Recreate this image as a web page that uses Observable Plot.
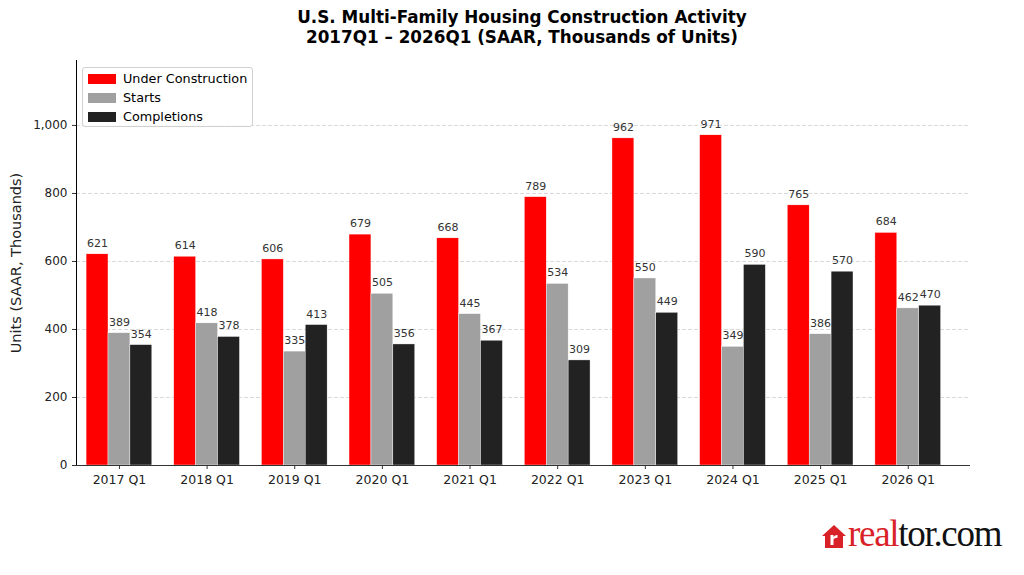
<!DOCTYPE html>
<html>
<head>
<meta charset="utf-8">
<script src="https://cdn.jsdelivr.net/npm/d3@7"></script>
<script src="https://cdn.jsdelivr.net/npm/@observablehq/plot@0.6"></script>
<style>
  html, body { margin: 0; padding: 0; background: #fff; }
  #page { position: relative; width: 1024px; height: 575px; overflow: hidden; font-family: "DejaVu Sans", sans-serif; }
  #title { position: absolute; top: 7px; left: 0; width: 1044px; text-align: center; font-weight: bold; font-size: 16.8px; line-height: 20px; color: #000; }
  #chart { position: absolute; top: 50px; left: 0; }
  #legend { position: absolute; left: 82px; top: 67px; width: 169px; height: 58px; border: 1px solid #d0d0d0; border-radius: 3px; background: rgba(255,255,255,0.85); font-size: 12.8px; color: #000; }
  .item { position: absolute; left: 5px; height: 19px; line-height: 19px; white-space: nowrap; }
  .sw { display: inline-block; width: 28px; height: 10px; vertical-align: middle; margin-right: 7px; position: relative; top: -1px; }
  #logo { position: absolute; left: 820px; top: 518px; width: 200px; height: 40px; }
  #logo .word { position: absolute; left: 28px; top: -6px; font-family: "Liberation Serif", "DejaVu Serif", serif; font-size: 37px; letter-spacing: -1.3px; white-space: nowrap; }
</style>
</head>
<body>
<div id="page">
  <div id="title">U.S. Multi-Family Housing Construction Activity<br>2017Q1 – 2026Q1 (SAAR, Thousands of Units)</div>
  <div id="chart"></div>
  <div id="legend"></div>
  <div id="logo">
    <svg width="26" height="26" viewBox="0 0 26 26" style="position:absolute;left:1px;top:6px">
      <path d="M13 1 L25 12 L22 12 L22 24 L4 24 L4 12 L1 12 Z" fill="#d92228"/>
      <path d="M9.5 21 L9.5 11 L12.5 11 L12.5 13 Q14 10.8 16.5 11 L16.5 13.8 Q13.5 13.6 12.5 15.5 L12.5 21 Z" fill="#fff"/>
    </svg>
    <div class="word"><span style="color:#d92228">real</span><span style="color:#111">tor.com</span></div>
  </div>
</div>
<script>
// Quarterly periods shown on the x axis
const periods = ["2017 Q1", "2018 Q1", "2019 Q1", "2020 Q1", "2021 Q1",
                 "2022 Q1", "2023 Q1", "2024 Q1", "2025 Q1", "2026 Q1"];

// Series names and colours
const seriesNames = ["Under Construction", "Starts", "Completions"];
const seriesColors = ["#ff0000", "#a0a0a0", "#222222"];

// Multi-family units, SAAR, thousands
const underConstruction = [621, 614, 606, 679, 668, 789, 962, 971, 765, 684];
const starts            = [389, 418, 335, 505, 445, 534, 550, 349, 386, 462];
const completions       = [354, 378, 413, 356, 367, 309, 449, 590, 570, 470];

// Y axis ticks
const yTicks = [0, 200, 400, 600, 800, 1000];

// Long-format table: one row per bar
const seriesValues = [underConstruction, starts, completions];
const barWidth = 0.25;
const rows = [];
seriesValues.forEach((vals, k) => {
  vals.forEach((v, i) => {
    const center = i + (k - 1) * barWidth;
    rows.push({
      period: periods[i],
      series: seriesNames[k],
      value: v,
      x1: center - barWidth / 2,
      x2: center + barWidth / 2,
      xc: center
    });
  });
});

const xDomain = [-0.49, 9.71];

const chart = Plot.plot({
  width: 1024,
  height: 450,
  marginLeft: 76,
  marginRight: 54,
  marginTop: 10,
  marginBottom: 35,
  style: { fontFamily: "DejaVu Sans, sans-serif", fontSize: "12px", background: "#fff", color: "#000" },
  x: { type: "linear", domain: xDomain },
  y: { domain: [0, 1191] },
  color: { domain: seriesNames, range: seriesColors },
  marks: [
    Plot.gridY(yTicks.filter(d => d > 0), { stroke: "#cfcfcf", strokeOpacity: 1, strokeDasharray: "4,2", strokeWidth: 0.8 }),
    Plot.rectY(rows, { x1: "x1", x2: "x2", y1: 0, y2: "value", fill: "series", stroke: "#fff", strokeWidth: 0.4 }),
    Plot.text(rows, { x: "xc", y: "value", text: d => String(d.value), dy: -11, fill: "#333", fontSize: 11 }),
    Plot.axisX({ ticks: d3.range(periods.length), tickFormat: i => periods[i], tickSize: 4, tickPadding: 6, fontSize: 12.5, fill: "#222", label: null, stroke: "#333" }),
    Plot.axisY({ ticks: yTicks, tickFormat: d3.format(","), tickSize: 4, tickPadding: 5, fontSize: 12, fill: "#222", stroke: "#333",
                 label: "Units (SAAR, Thousands)", labelAnchor: "center", labelArrow: "none", labelOffset: 66 }),
    Plot.ruleY([0], { stroke: "#333", strokeWidth: 1 }),
    Plot.ruleX([xDomain[0]], { stroke: "#000", strokeWidth: 1 })
  ]
});
// enlarge the y-axis title
chart.querySelectorAll("[aria-label='y-axis label'] text").forEach(t => t.setAttribute("font-size", "14.5px"));
document.getElementById("chart").appendChild(chart);

// Legend entries
const legend = document.getElementById("legend");
seriesNames.forEach((name, k) => {
  const item = document.createElement("div");
  item.className = "item";
  item.style.top = (1 + k * 19) + "px";
  item.innerHTML = `<span class="sw" style="background:${seriesColors[k]}"></span>${name}`;
  legend.appendChild(item);
});
</script>
</body>
</html>
